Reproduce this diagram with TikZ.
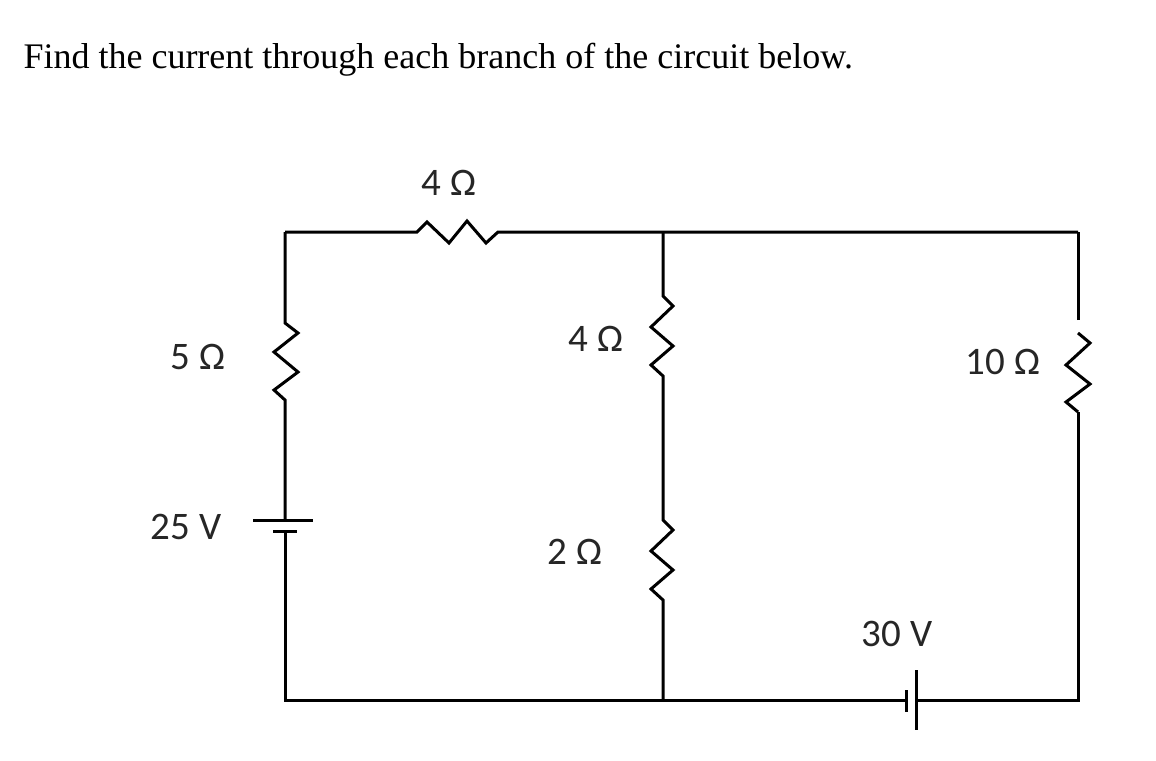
\documentclass[tikz,border=0pt]{standalone}
\usepackage{fontspec}
\setmainfont{Liberation Serif}
\newfontfamily\lbl{Carlito}
\begin{document}
\begin{tikzpicture}[x=1pt,y=-1pt,line width=3pt,
  lab/.style={font=\lbl\fontsize{39}{39}\selectfont,text=black!85,inner sep=0pt}]
\useasboundingbox (0,0) rectangle (1156,760);
\node[anchor=base west,inner sep=0pt,font=\fontsize{36}{36}\selectfont] (title) at (22,68) {Find the current through each branch of the circuit below.};
% coordinates
\coordinate (tl) at (285,232); \coordinate (tm) at (663,232); \coordinate (tr) at (1078,232);
\coordinate (bl) at (285,700); \coordinate (bm) at (663,700); \coordinate (br) at (1078,700);
% top wire with 4 ohm
\draw (tl) -- (417,232) -- (427,222) -- (449,243) -- (467,221) -- (486,243) -- (498,232) -- (tm) -- (tr);
% left branch
\draw (tl) -- (285,323) -- (298,333) -- (274,352) -- (298,372) -- (274,390) -- (285,400) -- (285,520);
\draw (253,520) -- (313,520);
\draw (273,531) -- (297,531);
\draw (285,531) -- (bl) -- (bm) -- (906,700);
\draw (916,700) -- (br) -- (1078,412);
\draw (1078,320) -- (tr);
% 30 V battery
\draw (916,670) -- (916,730);
\draw (906,690) -- (906,712);
% middle branch
\draw (tm) -- (663,296) -- (673,306) -- (651,327) -- (673,346) -- (651,365) -- (663,376) -- (663,520) -- (673,530) -- (651,551) -- (673,570) -- (651,589) -- (663,600) -- (bm);
% right resistor
\draw (1078,333) -- (1090,343) -- (1066,365) -- (1090,384) -- (1066,402) -- (1078,412);
% labels
\node[lab] (r1) at (449,183) {4 Ω};
\node[lab] (r2) at (198,357) {5 Ω};
\node[lab] (r3) at (596,339) {4 Ω};
\node[lab] (r4) at (1003,362) {10 Ω};
\node[lab] (v1) at (186,527) {25 V};
\node[lab] (r5) at (575,552) {2 Ω};
\node[lab] (v2) at (897,634) {30 V};
\end{tikzpicture}
\end{document}
